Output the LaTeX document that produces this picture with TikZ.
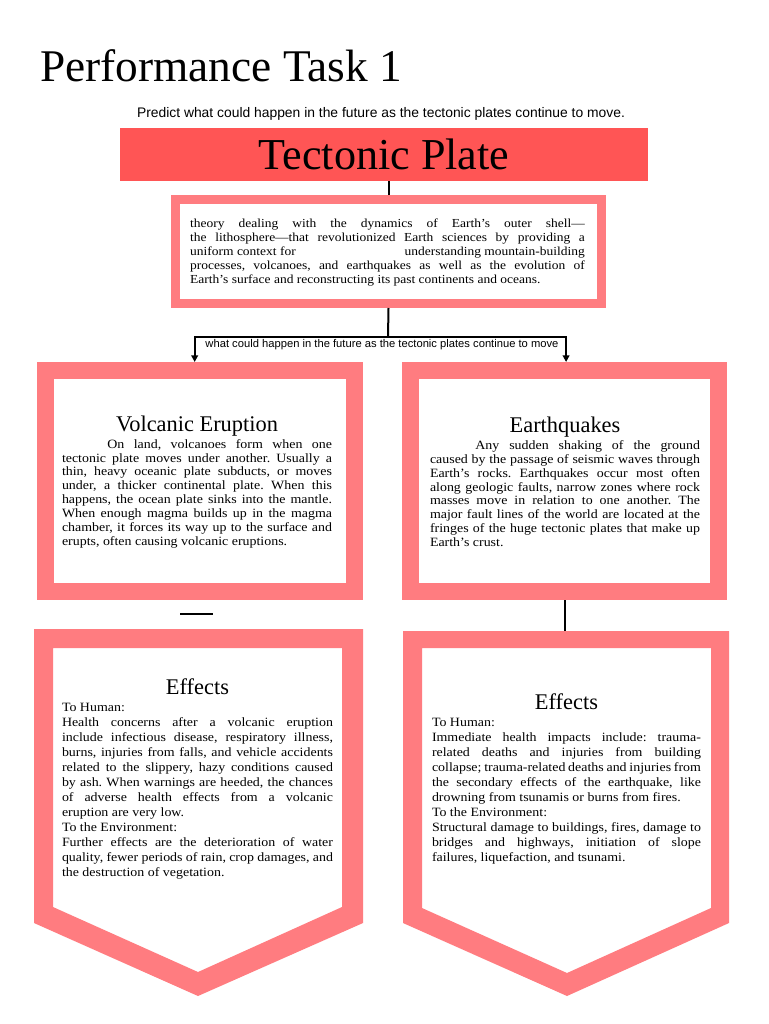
\documentclass[tikz,border=0pt]{standalone}
\usepackage{fontspec}
\setmainfont{Liberation Serif}
\setsansfont{Liberation Sans}
\newfontfamily\bodyfont[FakeStretch=1.1]{Liberation Serif}
\usetikzlibrary{arrows.meta}
\definecolor{hdrred}{HTML}{FF5555}
\definecolor{rose}{HTML}{FF7C80}
\setlength{\parindent}{0pt}
\frenchspacing
\begin{document}
\begin{tikzpicture}[x=0.75pt,y=-0.75pt,
  frame/.style={draw=rose, fill=white, inner sep=0pt},
  txt/.style={inner sep=0pt, align=justify, font=\bodyfont},
  conn/.style={draw=black, line width=1.5pt},
  arr/.style={conn, -{Triangle[width=5pt,length=5pt]}}]
\path[use as bounding box, fill=white] (0,0) rectangle (768,1024);

% title and subtitle
\node[anchor=base west, inner sep=0pt, font=\fontsize{34}{40}\selectfont] (title) at (40,82) {Performance Task 1};
\node[inner sep=0pt, font=\sffamily\fontsize{10.4}{12}\selectfont] (sub) at (381,114) {Predict what could happen in the future as the tectonic plates continue to move.};

% header
\node[fill=hdrred, inner sep=0pt, minimum width=396pt, minimum height=39.75pt,
      font=\fontsize{33.1}{40}\selectfont] (header) at (384,154.5) {Tectonic Plate};

% theory box
\node[frame, line width=6.75pt, minimum width=319.5pt, minimum height=78pt] (theory) at (388.5,251.5) {};
\node[txt, text width=296pt] (theorytxt) at (387.5,253) {\fontsize{9.2}{10.5}\selectfont
theory dealing with the dynamics of Earth’s outer shell—\linebreak
the lithosphere—that revolutionized Earth sciences by providing a\linebreak
uniform context for\hfill\hspace{0pt} understanding mountain-building\linebreak
processes, volcanoes, and earthquakes as well as the evolution of\linebreak
Earth’s surface and reconstructing its past continents and oceans.\par};

% volcanic and earthquakes boxes
\node[frame, line width=12.75pt, minimum width=231.75pt, minimum height=165.75pt] (volc) at (200,481) {};
\node[frame, line width=12.75pt, minimum width=231pt, minimum height=165.75pt] (eq) at (564.75,481) {};

\node[txt, text width=202.5pt] (volctxt) at (197,482) {%
{\centering\normalfont\fontsize{16.8}{20}\selectfont Volcanic Eruption\par}\vspace{2pt}%
{\fontsize{9.5}{10.4}\selectfont\hspace*{34pt}On land, volcanoes form when one\linebreak
tectonic plate moves under another. Usually a\linebreak
thin, heavy oceanic plate subducts, or moves\linebreak
under, a thicker continental plate. When this\linebreak
happens, the ocean plate sinks into the mantle.\linebreak
When enough magma builds up in the magma\linebreak
chamber, it forces its way up to the surface and\linebreak
erupts, often causing volcanic eruptions.\par}};

\node[txt, text width=202.5pt] (eqtxt) at (565,482) {%
{\centering\normalfont\fontsize{16.8}{20}\selectfont Earthquakes\par}\vspace{2pt}%
{\fontsize{9.5}{10.4}\selectfont\hspace*{34pt}Any sudden shaking of the ground\linebreak
caused by the passage of seismic waves through\linebreak
Earth’s rocks. Earthquakes occur most often\linebreak
along geologic faults, narrow zones where rock\linebreak
masses move in relation to one another. The\linebreak
major fault lines of the world are located at the\linebreak
fringes of the huge tectonic plates that make up\linebreak
Earth’s crust.\par}};

% chevrons
\fill[rose, even odd rule] (34,629) -- (363,629) -- (363,923) -- (198,996) -- (34,923) -- cycle
  (53,648) -- (342,648) -- (342,907) -- (198,972) -- (53,907) -- cycle;
\fill[rose, even odd rule] (403,631) -- (729,631) -- (729,923) -- (567,996) -- (403,923) -- cycle
  (422,648) -- (711,648) -- (711,908) -- (567,973) -- (422,908) -- cycle;
\coordinate (effLtop) at (198,629);
\coordinate (effRtop) at (566,631);

\node[txt, text width=203.25pt] (effLtxt) at (197.5,779) {%
{\centering\normalfont\fontsize{16.8}{20}\selectfont Effects\par}\vspace{1pt}%
{\fontsize{9.5}{11.25}\selectfont To Human:\par
Health concerns after a volcanic eruption\linebreak
include infectious disease, respiratory illness,\linebreak
burns, injuries from falls, and vehicle accidents\linebreak
related to the slippery, hazy conditions caused\linebreak
by ash. When warnings are heeded, the chances\linebreak
of adverse health effects from a volcanic\linebreak
eruption are very low.\par
To the Environment:\par
Further effects are the deterioration of water\linebreak
quality, fewer periods of rain, crop damages, and\linebreak
the destruction of vegetation.\par}};

\node[txt, text width=201.75pt] (effRtxt) at (566.5,779) {%
{\centering\normalfont\fontsize{16.8}{20}\selectfont Effects\par}\vspace{1pt}%
{\fontsize{9.5}{11.25}\selectfont To Human:\par
Immediate health impacts include: trauma-\linebreak
related deaths and injuries from building\linebreak
collapse; trauma-related deaths and injuries from\linebreak
the secondary effects of the earthquake, like\linebreak
drowning from tsunamis or burns from fires.\par
To the Environment:\par
Structural damage to buildings, fires, damage to\linebreak
bridges and highways, initiation of slope\linebreak
failures, liquefaction, and tsunami.\par}};

% connectors
\draw[conn] (theory.north) -- (theory.north |- header.south);
\coordinate (split) at (388,337);
\draw[conn] (theory.south) -- (split);
\draw[arr] (split) -| ([xshift=-4]volc.north);
\draw[arr] (split) -| ([xshift=1]eq.north);
\node[inner sep=0pt, font=\sffamily\fontsize{8.4}{10}\selectfont] (branchlbl) at (382,345) {what could happen in the future as the tectonic plates continue to move};
\coordinate (dashL) at (180,614);
\coordinate (dashR) at (213,614);
\draw[conn] (dashL) -- (dashR);
\draw[conn] (eq.south) -- (eq.south |- effRtop);
\end{tikzpicture}
\end{document}
